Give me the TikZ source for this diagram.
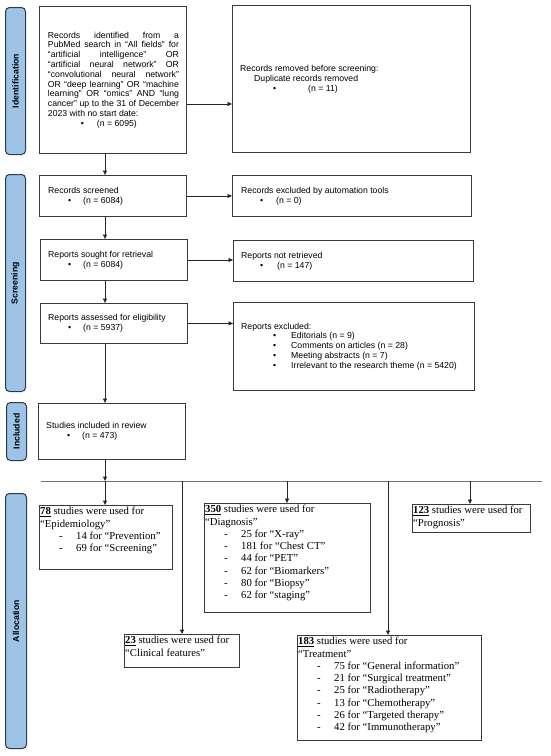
\documentclass[tikz,border=0pt]{standalone}
\usepackage{fontspec}
\setmainfont{Liberation Serif}
\setsansfont{Liberation Sans}
\usetikzlibrary{arrows.meta,calc}
\definecolor{sidefill}{HTML}{9DC3E6}
\definecolor{sidedraw}{HTML}{2B3A4A}
\definecolor{boxdraw}{HTML}{3A3A3A}
\newcommand\bline[3]{\hspace*{#1}\makebox[#2][l]{•}#3}
\newcommand\ditem[1]{\hspace*{19pt}\makebox[17pt][l]{-}#1}
\begin{document}
\begin{tikzpicture}[x=1pt,y=-1pt,
  box/.style={draw=boxdraw, line width=0.9pt, anchor=north west, inner sep=0pt},
  side/.style={draw=sidedraw, fill=sidefill, line width=1pt, rounded corners=4pt, anchor=north west, inner sep=0pt},
  sidelabel/.style={font=\sffamily\bfseries\fontsize{8.7}{9}\selectfont, rotate=90, inner sep=0pt},
  stxt/.style={font=\sffamily\fontsize{8.7}{9.8}\selectfont, align=left, inner sep=0pt, anchor=west},
  rtxt/.style={font=\rmfamily\fontsize{10.7}{12.3}\selectfont, align=left, inner sep=0pt, anchor=north west},
  arr/.style={-{Triangle[length=4.5pt,width=4pt]}, line width=0.8pt, draw=black!85},
  hline/.style={line width=0.6pt, draw=black!55},
]
\useasboundingbox (0,0) rectangle (550,756);
\fill[white] (0,0) rectangle (550,756);

% side bars
\node[side, minimum width=20pt, minimum height=147pt] (s1) at (5,7) {};
\node[sidelabel] (s1l) at (s1.center) {Identification};
\node[side, minimum width=20pt, minimum height=217pt] (s2) at (5,174) {};
\node[sidelabel] (s2l) at (s2.center) {Screening};
\node[side, minimum width=20pt, minimum height=58pt] (s3) at (6,402) {};
\node[sidelabel] (s3l) at (s3.center) {Included};
\node[side, minimum width=21pt, minimum height=255pt] (s4) at (5,493) {};
\node[sidelabel] (s4l) at (s4.center) {Allocation};

% boxes
\node[box, minimum width=147pt, minimum height=147pt] (b1) at (39,6) {};
\node[box, minimum width=238pt, minimum height=147pt] (b2) at (232,5) {};
\node[box, minimum width=147pt, minimum height=41pt] (b3) at (39,175) {};
\node[box, minimum width=239pt, minimum height=41pt] (b4) at (232,175) {};
\node[box, minimum width=147pt, minimum height=41pt] (b5) at (40,239) {};
\node[box, minimum width=240pt, minimum height=41pt] (b6) at (233,240) {};
\node[box, minimum width=147pt, minimum height=40pt] (b7) at (40,303) {};
\node[box, minimum width=241pt, minimum height=88pt] (b8) at (233,302) {};
\node[box, minimum width=147pt, minimum height=56pt] (b9) at (38,403) {};
\node[box, minimum width=133pt, minimum height=64pt] (e) at (39,505) {};
\node[box, minimum width=166pt, minimum height=109pt] (d) at (204,503) {};
\node[box, minimum width=118pt, minimum height=28pt] (p) at (412,504) {};
\node[box, minimum width=115pt, minimum height=33pt] (c) at (124,634) {};
\node[box, minimum width=184pt, minimum height=105pt] (t) at (297,635) {};

% texts, upper part
\node[stxt, anchor=center, text width=131pt, align=justify] (t1) at ([xshift=0.5pt]b1.center)
 {Records identified from a\linebreak PubMed search in “All fields” for\linebreak
  “artificial intelligence” OR\linebreak “artificial neural network” OR\linebreak
  “convolutional neural network”\linebreak OR “deep learning” OR “machine\linebreak
  learning” OR “omics” AND “lung\linebreak cancer” up to the 31 of December\linebreak
  2023 with no start date:\newline\bline{33pt}{16pt}{(n = 6095)}};
\node[stxt] (t2) at ([xshift=8pt]b2.west)
 {Records removed before screening:\\\hspace*{14pt}Duplicate records removed\\\bline{33pt}{35pt}{(n = 11)}};
\node[stxt] (t3) at ([xshift=9pt]b3.west)
 {Records screened\\\bline{20pt}{15pt}{(n = 6084)}};
\node[stxt] (t4) at ([xshift=9pt]b4.west)
 {Records excluded by automation tools\\\bline{19pt}{16pt}{(n = 0)}};
\node[stxt] (t5) at ([xshift=8pt]b5.west)
 {Reports sought for retrieval\\\bline{20pt}{15pt}{(n = 6084)}};
\node[stxt] (t6) at ([xshift=8pt]b6.west)
 {Reports not retrieved\\\bline{19pt}{17pt}{(n = 147)}};
\node[stxt] (t7) at ([xshift=8pt]b7.west)
 {Reports assessed for eligibility\\\bline{20pt}{15pt}{(n = 5937)}};
\node[stxt] (t8) at ([xshift=8pt]b8.west)
 {Reports excluded:\\\bline{32pt}{18pt}{Editorials (n = 9)}\\
  \bline{32pt}{18pt}{Comments on articles (n = 28)}\\
  \bline{32pt}{18pt}{Meeting abstracts (n = 7)}\\
  \bline{32pt}{18pt}{Irrelevant to the research theme (n = 5420)}};
\node[stxt] (t9) at ([xshift=8pt]b9.west)
 {Studies included in review\\\bline{21pt}{15pt}{(n = 473)}};

% texts, allocation
\node[rtxt] (te) at ([xshift=1pt,yshift=-2pt]e.north west)
 {\underline{\textbf{78}} studies were used for\\“Epidemiology”\\
  \ditem{14 for “Prevention”}\\\ditem{69 for “Screening”}};
\node[rtxt] (td) at ([xshift=1pt,yshift=-2pt]d.north west)
 {\underline{\textbf{350}} studies were used for\\“Diagnosis”\\
  \ditem{25 for “X-ray”}\\\ditem{181 for “Chest CT”}\\\ditem{44 for “PET”}\\
  \ditem{62 for “Biomarkers”}\\\ditem{80 for “Biopsy”}\\\ditem{62 for “staging”}};
\node[rtxt] (tp) at ([xshift=1pt,yshift=-2pt]p.north west)
 {\underline{\textbf{123}} studies were used for\\“Prognosis”};
\node[rtxt] (tc) at ([xshift=1pt,yshift=-2pt]c.north west)
 {\underline{\textbf{23}} studies were used for\\“Clinical features”};
\node[rtxt] (tt) at ([xshift=1pt,yshift=-2pt]t.north west)
 {\underline{\textbf{183}} studies were used for\\“Treatment”\\
  \ditem{75 for “General information”}\\\ditem{21 for “Surgical treatment”}\\
  \ditem{25 for “Radiotherapy”}\\\ditem{13 for “Chemotherapy”}\\
  \ditem{26 for “Targeted therapy”}\\\ditem{42 for “Immunotherapy”}};

% connectors
\coordinate (cx) at (105,0);
\coordinate (a1) at (0,104);
\draw[arr] (b1.south -| cx) -- (b3.north -| cx);
\draw[arr] (b3.south -| cx) -- (b5.north -| cx);
\draw[arr] (b5.south -| cx) -- (b7.north -| cx);
\draw[arr] (b7.south -| cx) -- (b9.north -| cx);
\draw[arr] (b1.east |- a1) -- (b2.west |- a1);
\draw[arr] (b3.east) -- (b4.west |- b3.east);
\draw[arr] (b5.east) -- (b6.west |- b5.east);
\draw[arr] (b7.east) -- (b8.west |- b7.east);

\coordinate (hl) at (41,481);
\coordinate (hr) at (542,481);
\coordinate (xc) at (182,0);
\coordinate (xd) at (287,0);
\coordinate (xt) at (388,0);
\coordinate (xp) at (470,0);
\draw[hline] (hl) -- (hr);
\draw[arr] (b9.south -| cx) -- (hl -| cx);
\draw[arr] (hl -| cx) -- (e.north -| cx);
\draw[arr] (hl -| xc) -- (c.north -| xc);
\draw[arr] (hl -| xd) -- (d.north -| xd);
\draw[arr] (hl -| xt) -- (t.north -| xt);
\draw[arr] (hl -| xp) -- (p.north -| xp);
\end{tikzpicture}
\end{document}
